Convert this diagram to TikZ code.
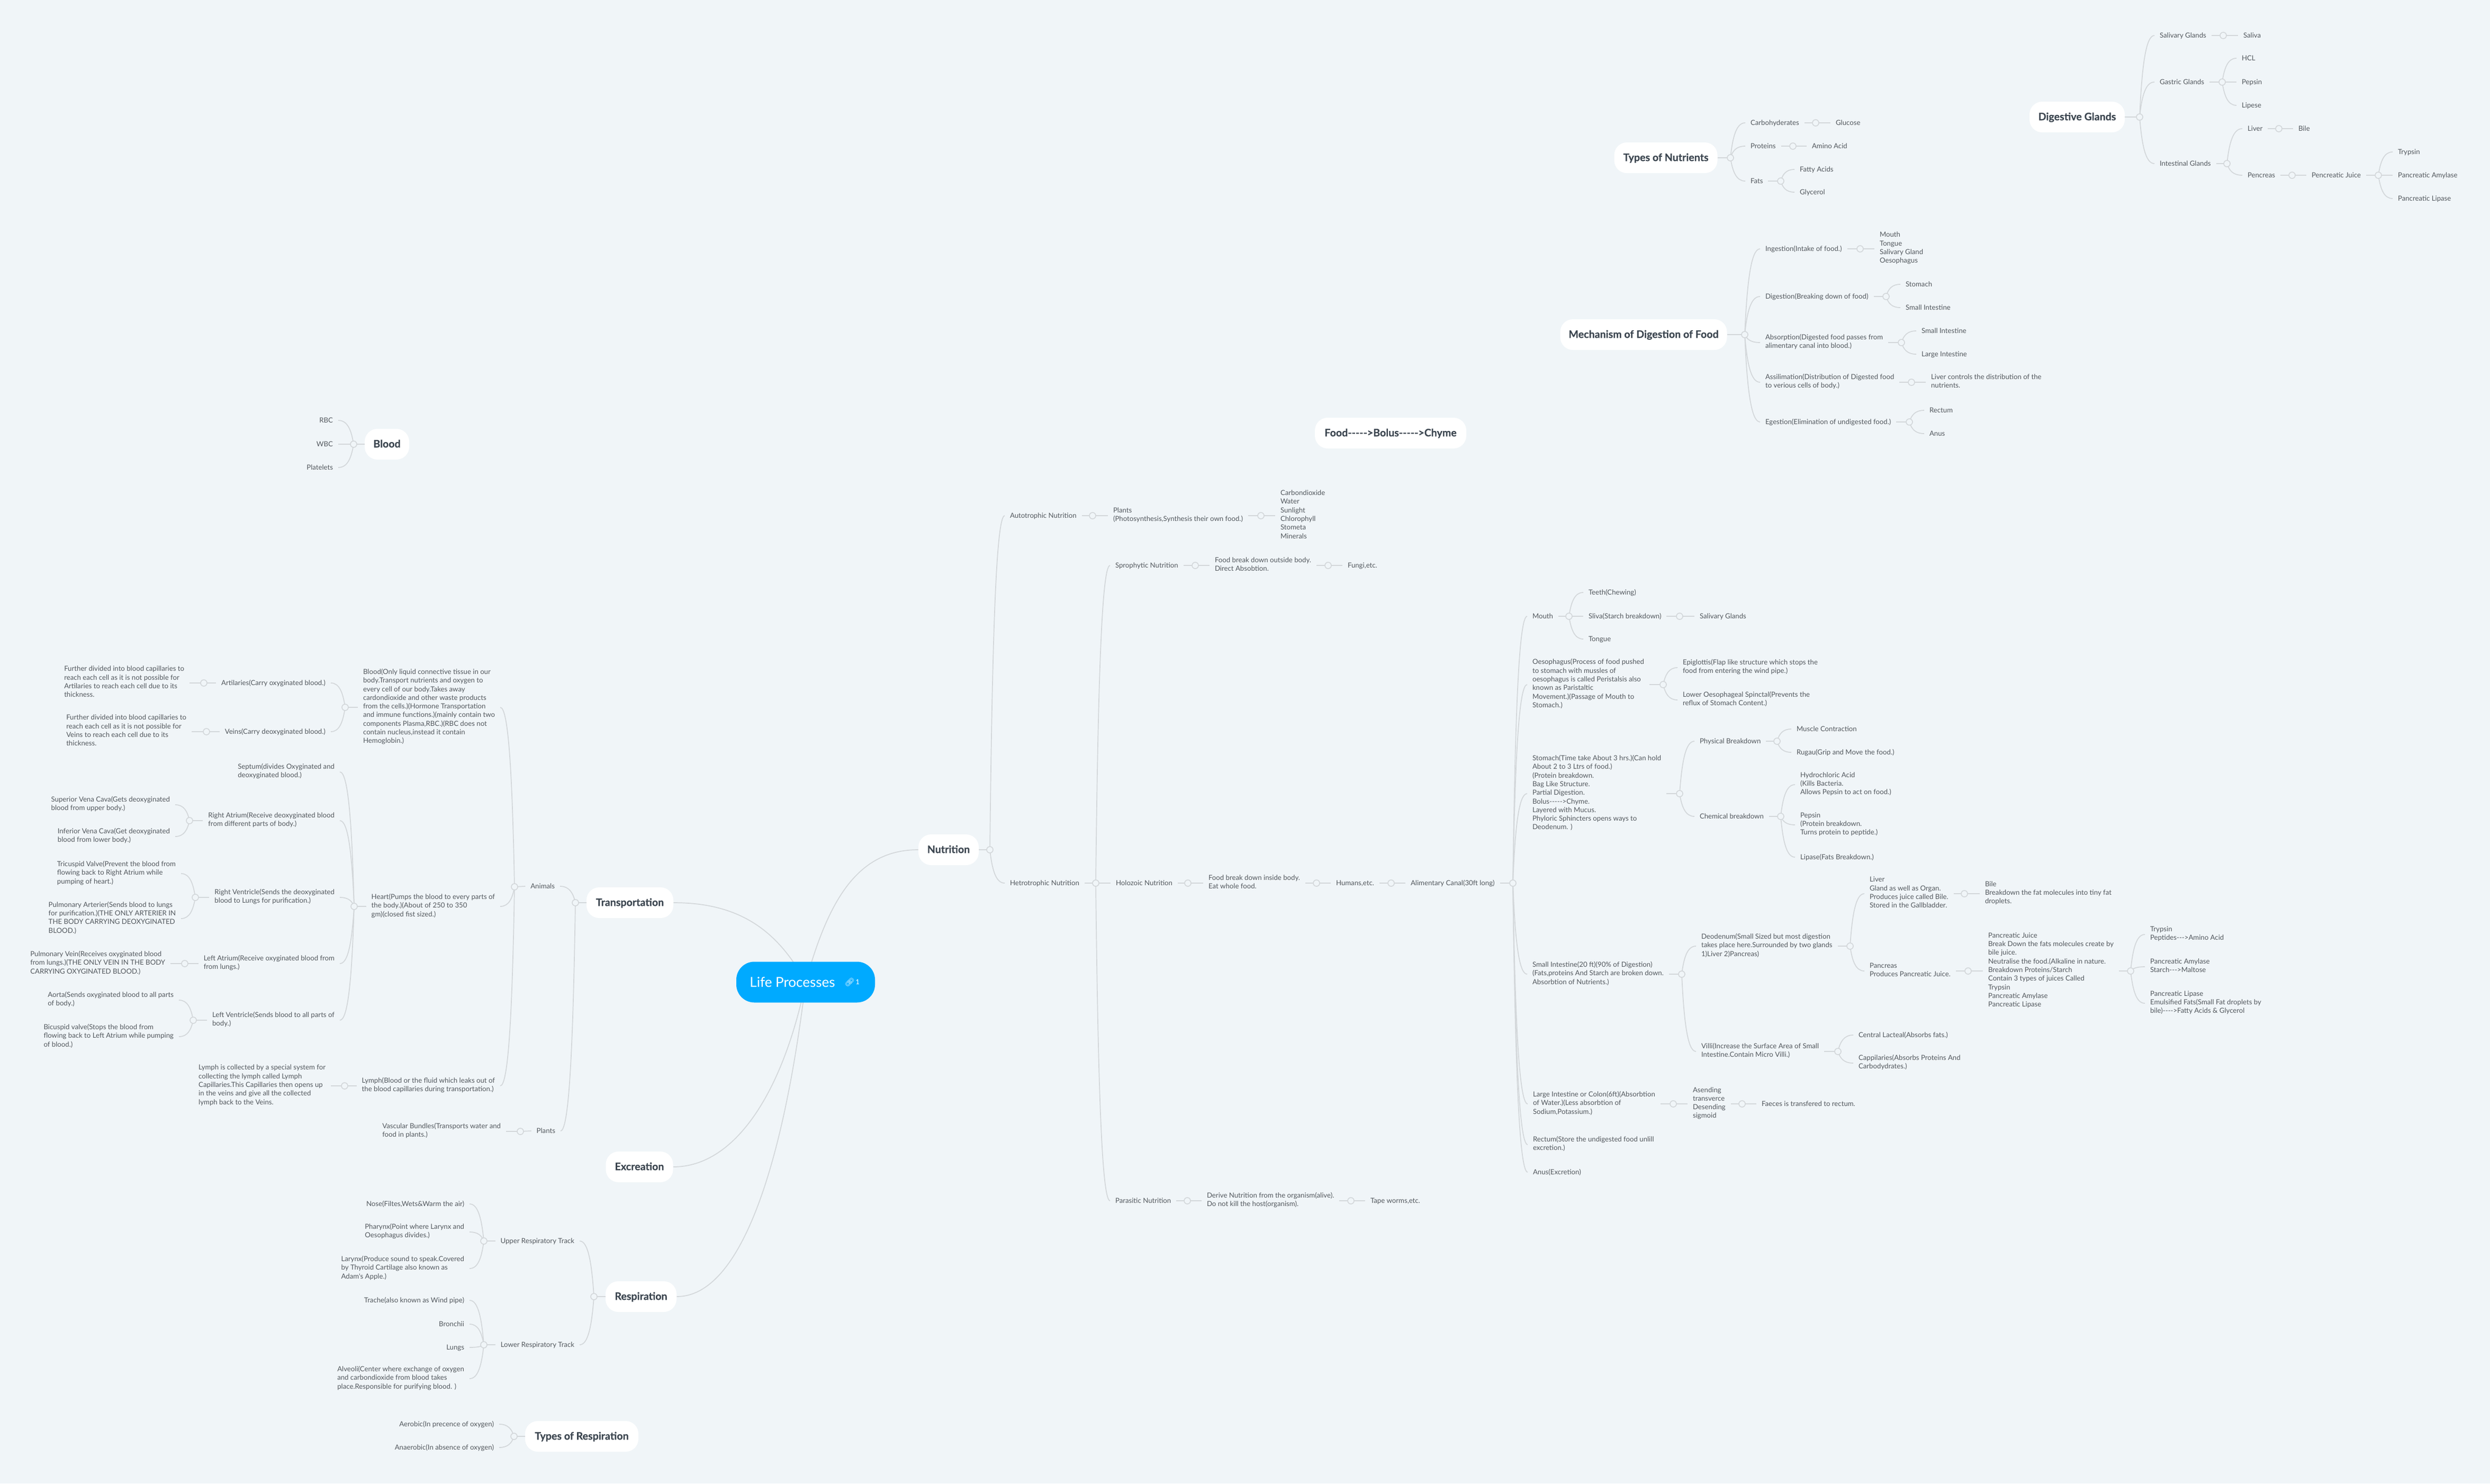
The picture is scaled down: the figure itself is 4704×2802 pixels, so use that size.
\documentclass[tikz,border=0pt]{standalone}
\usepackage{fontspec}
\usetikzlibrary{calc}
\newfontfamily\bodyf{Lato}
\newfontfamily\emojif{Noto Emoji}
\definecolor{bgc}{HTML}{F0F5F8}
\definecolor{linec}{HTML}{D3D7DA}
\definecolor{txtc}{HTML}{52585E}
\definecolor{headc}{HTML}{3C4650}
\definecolor{rootc}{HTML}{00AAFF}
\pgfdeclarelayer{bg}
\pgfsetlayers{bg,main}
\tikzset{
 txt/.style={inner sep=0pt,outer sep=0pt,align=left,text=txtc,font=\bodyf\fontsize{6.6}{8.15}\selectfont,execute at begin node=\rule[-2.445pt]{0pt}{9.15pt},execute at end node=\strut},
 jct/.style={circle,draw=linec,fill=bgc,line width=0.8pt,minimum size=6pt,inner sep=0pt},
 conn/.style={draw=linec,line width=0.85pt},
 pill/.style={rounded corners=12pt,fill=white,inner sep=0pt,minimum height=29pt,text=headc,text height=8.2pt,text depth=2pt,font=\bodyf\bfseries\addfontfeatures{FakeBold=0.4}\fontsize{9.8}{12}\selectfont},
 rootpill/.style={rounded corners=17pt,fill=rootc,inner sep=0pt,minimum height=38.5pt,minimum width=131pt,text=white,font=\bodyf\fontsize{13}{15}\selectfont}
}
\newcommand{\tR}[4]{\node[txt,anchor=west] (#1) at (#2,#3) {#4};}
\newcommand{\tL}[4]{\node[txt,anchor=east] (#1) at (#2,#3) {#4};}
\newcommand{\Jn}[3]{\node[jct] (#1) at (#2,#3) {};}
\newcommand{\Topic}[5]{\node[pill,minimum width=#4*0.5pt] (#1) at (#2,#3) {#5};}
% right-going branch from junction to text children
\newcommand{\Rb}[2]{\foreach \ch in {#2}{\draw[conn] let \p1=(#1.center),\p2=([xshift=-5pt]\ch.west) in (\p1) .. controls ({\x1+0.15*(\x2-\x1)},{\y1+0.6*(\y2-\y1)}) and ({\x1+0.4*(\x2-\x1)},\y2) .. (\p2);}}
% left-going branch
\newcommand{\Lb}[2]{\foreach \ch in {#2}{\draw[conn] let \p1=(#1.center),\p2=([xshift=5pt]\ch.east) in (\p1) .. controls ({\x1+0.15*(\x2-\x1)},{\y1+0.6*(\y2-\y1)}) and ({\x1+0.4*(\x2-\x1)},\y2) .. (\p2);}}
\newcommand{\StR}[2]{\draw[conn] ([xshift=5pt]#1.east) -- (#2.center);}
\newcommand{\StL}[2]{\draw[conn] ([xshift=-5pt]#1.west) -- (#2.center);}
\newcommand{\PpR}[2]{\draw[conn] (#1.east) -- (#2.center);}
\newcommand{\PpL}[2]{\draw[conn] (#1.west) -- (#2.center);}
\begin{document}
\begin{tikzpicture}[x=0.5pt,y=-0.5pt]
\useasboundingbox (0,0) rectangle (4704,2802);
% ---------- topics
\node[rootpill] (root) at (1522,1855) {Life Processes\rule{25pt}{0pt}};
\node[text=white,inner sep=0pt,font=\emojif\fontsize{7.5}{9}\selectfont] (rootlink) at (1605,1855) {🔗};
\node[text=white,inner sep=0pt,font=\bodyf\fontsize{6.5}{8}\selectfont] (rootnum) at (1620,1855) {1};
\Topic{nut}{1792}{1605}{114}{Nutrition}
\Topic{tra}{1190}{1705}{164}{Transportation}
\Topic{exc}{1208}{2204}{127}{Excreation}
\Topic{res}{1211}{2449}{134}{Respiration}
\Topic{tyr}{1099}{2713}{214}{Types of Respiration}
\Topic{blo}{731}{839}{84}{Blood}
\Topic{foo}{2627}{818}{286}{Food----->Bolus----->Chyme}
\Topic{mec}{3105}{632}{315}{Mechanism of Digestion of Food}
\Topic{typ}{3147}{298}{195}{Types of Nutrients}
\Topic{dig}{3924}{221}{180}{Digestive Glands}
% ---------- Digestive Glands
\Jn{jd}{4042}{221}
\tR{sg}{4080}{67}{Salivary Glands}\Jn{jsg}{4200}{67}\tR{sal}{4238}{67}{Saliva}
\tR{gg}{4080}{155}{Gastric Glands}\Jn{jgg}{4198}{155}
\tR{hcl}{4235}{110}{HCL}\tR{pep}{4235}{155}{Pepsin}\tR{lip}{4235}{199}{Lipese}
\tR{ig}{4080}{309}{Intestinal Glands}\Jn{jig}{4207}{309}
\tR{liv}{4246}{243}{Liver}\Jn{jliv}{4305}{243}\tR{bil}{4342}{243}{Bile}
\tR{pen}{4246}{331}{Pencreas}\Jn{jpen}{4330}{331}\tR{pju}{4367}{331}{Pencreatic Juice}\Jn{jpju}{4493}{331}
\tR{try}{4530}{287}{Trypsin}\tR{pam}{4530}{331}{Pancreatic Amylase}\tR{pli}{4530}{375}{Pancreatic Lipase}
% ---------- Types of Nutrients
\Jn{jt}{3269}{298}
\tR{car}{3307}{232}{Carbohyderates}\Jn{jcar}{3430}{232}\tR{glu}{3468}{232}{Glucose}
\tR{pro}{3307}{276}{Proteins}\Jn{jpro}{3387}{276}\tR{ami}{3423}{276}{Amino Acid}
\tR{fat}{3307}{342}{Fats}\Jn{jfat}{3364}{342}\tR{fac}{3400}{320}{Fatty Acids}\tR{gly}{3400}{363}{Glycerol}
% ---------- Mechanism
\Jn{jm}{3296}{632}
\tR{ing}{3335}{470}{Ingestion(Intake of food.)}\Jn{jing}{3514}{470}
\tR{ingl}{3551}{470}{Mouth\\Tongue\\Salivary Gland\\Oesophagus}
\tR{dgs}{3335}{560}{Digestion(Breaking down of food)}\Jn{jdgs}{3563}{560}
\tR{sto}{3600}{537}{Stomach}\tR{smi}{3600}{581}{Small Intestine}
\tR{abs}{3335}{647}{Absorption(Digested food passes from\\alimentary canal into blood.)}\Jn{jabs}{3592}{647}
\tR{smb}{3630}{625}{Small Intestine}\tR{lai}{3630}{669}{Large Intestine}
\tR{ass}{3335}{722}{Assilimation(Distribution of Digested food\\to verious cells of body.)}\Jn{jass}{3611}{722}
\tR{lco}{3648}{722}{Liver controls the distribution of the\\nutrients.}
\tR{ege}{3335}{797}{Egestion(Elimination of undigested food.)}\Jn{jege}{3607}{797}
\tR{rec}{3645}{775}{Rectum}\tR{anu}{3645}{819}{Anus}
% ---------- Blood
\Jn{jb}{668}{839}
\tL{rbc}{629}{794}{RBC}\tL{wbc}{629}{839}{WBC}\tL{pla}{629}{883}{Platelets}
% ---------- Nutrition
\Jn{jn}{1870}{1605}
\tR{aut}{1908}{974}{Autotrophic Nutrition}\Jn{jaut}{2064}{974}
\tR{pln}{2103}{974}{Plants\\(Photosynthesis,Synthesis their own food.)}\Jn{jpln}{2382}{974}
\tR{pll}{2419}{974}{Carbondioxide\\Water\\Sunlight\\Chlorophyll\\Stometa\\Minerals}
\tR{het}{1908}{1668}{Hetrotrophic Nutrition}\Jn{jhet}{2070}{1668}
\tR{spr}{2107}{1068}{Sprophytic Nutrition}\Jn{jspr}{2258}{1068}
\tR{fbo}{2295}{1068}{Food break down outside body.\\Direct Absobtion.}\Jn{jfbo}{2509}{1068}
\tR{fun}{2546}{1068}{Fungi,etc.}
\tR{hol}{2108}{1668}{Holozoic Nutrition}\Jn{jhol}{2244}{1668}
\tR{fbi}{2283}{1668}{Food break down inside body.\\Eat whole food.}\Jn{jfbi}{2487}{1668}
\tR{hum}{2524}{1668}{Humans,etc.}\Jn{jhum}{2628}{1668}
\tR{ali}{2665}{1668}{Alimentary Canal(30ft long)}\Jn{jali}{2858}{1668}
\tR{par}{2107}{2268}{Parasitic Nutrition}\Jn{jpar}{2243}{2268}
\tR{der}{2280}{2268}{Derive Nutrition from the organism(alive).\\Do not kill the host(organism).}\Jn{jder}{2552}{2268}
\tR{tap}{2589}{2268}{Tape worms,etc.}
% Alimentary canal
\tR{mou}{2895}{1164}{Mouth}\Jn{jmou}{2964}{1164}
\tR{tee}{3001}{1119}{Teeth(Chewing)}\tR{sli}{3001}{1164}{Sliva(Starch breakdown)}\Jn{jsli}{3173}{1164}
\tR{sgl}{3211}{1164}{Salivary Glands}\tR{ton}{3001}{1207}{Tongue}
\tR{oes}{2895}{1293}{Oesophagus(Process of food pushed\\to stomach with mussles of\\oesophagus is called Peristalsis also\\known as Paristaltic\\Movement.)(Passage of Mouth to\\Stomach.)}\Jn{joes}{3142}{1293}
\tR{epi}{3179}{1261}{Epiglottis(Flap like structure which stops the\\food from entering the wind pipe.)}
\tR{low}{3179}{1322}{Lower Oesophageal Spinctal(Prevents the\\reflux of Stomach Content.)}
\tR{stm}{2895}{1499}{Stomach(Time take About 3 hrs.)(Can hold\\About 2 to 3 Ltrs of food.)\\(Protein breakdown.\\Bag Like Structure.\\Partial Digestion.\\Bolus----->Chyme.\\Layered with Mucus.\\Phyloric Sphincters opens ways to\\Deodenum. )}\Jn{jstm}{3173}{1499}
\tR{phy}{3211}{1400}{Physical Breakdown}\Jn{jphy}{3357}{1400}
\tR{mus}{3394}{1377}{Muscle Contraction}\tR{rug}{3394}{1421}{Rugau(Grip and Move the food.)}
\tR{che}{3211}{1542}{Chemical breakdown}\Jn{jche}{3364}{1542}
\tR{hyd}{3401}{1482}{Hydrochloric Acid\\(Kills Bacteria.\\Allows Pepsin to act on food.)}
\tR{pps}{3401}{1558}{Pepsin\\(Protein breakdown.\\Turns protein to peptide.)}
\tR{lps}{3401}{1619}{Lipase(Fats Breakdown.)}
\tR{smn}{2895}{1840}{Small Intestine(20 ft)(90\% of Digestion)\\(Fats,proteins And Starch are broken down.\\Absorbtion of Nutrients.)}\Jn{jsmn}{3177}{1840}
\tR{deo}{3214}{1787}{Deodenum(Small Sized but most digestion\\takes place here.Surrounded by two glands\\1)Liver 2)Pancreas)}\Jn{jdeo}{3495}{1787}
\tR{lvr}{3532}{1688}{Liver\\Gland as well as Organ.\\Produces juice called Bile.\\Stored in the Gallbladder.}\Jn{jlvr}{3711}{1688}
\tR{bbl}{3750}{1688}{Bile\\Breakdown the fat molecules into tiny fat\\droplets.}
\tR{pnc}{3532}{1834}{Pancreas\\Produces Pancreatic Juice.}\Jn{jpnc}{3718}{1834}
\tR{pjc}{3756}{1834}{Pancreatic Juice\\Break Down the fats molecules create by\\bile juice.\\Neutralise the food.(Alkaline in nature.\\Breakdown Proteins/Starch\\Contain 3 types of juices Called\\Trypsin\\Pancreatic Amylase\\Pancreatic Lipase}\Jn{jpjc}{4025}{1834}
\tR{trp}{4062}{1765}{Trypsin\\Peptides--->Amino Acid}
\tR{amy}{4062}{1826}{Pancreatic Amylase\\Starch--->Maltose}
\tR{lpe}{4062}{1895}{Pancreatic Lipase\\Emulsified Fats(Small Fat droplets by\\bile)---->Fatty Acids \& Glycerol}
\tR{vil}{3214}{1986}{Villi(Increase the Surface Area of Small\\Intestine.Contain Micro Villi.)}\Jn{jvil}{3472}{1986}
\tR{cen}{3511}{1955}{Central Lacteal(Absorbs fats.)}
\tR{cap}{3511}{2008}{Cappilaries(Absorbs Proteins And\\Carbodydrates.)}
\tR{lar}{2896}{2085}{Large Intestine or Colon(6ft)(Absorbtion\\of Water.)(Less absorbtion of\\Sodium,Potassium.)}\Jn{jlar}{3161}{2085}
\tR{ase}{3198}{2085}{Asending\\transverce\\Desending\\sigmoid}\Jn{jase}{3291}{2085}
\tR{fae}{3328}{2085}{Faeces is transfered to rectum.}
\tR{rct}{2896}{2162}{Rectum(Store the undigested food unlill\\excretion.)}
\tR{ans}{2896}{2214}{Anus(Excretion)}
% ---------- Transportation
\Jn{jtr}{1087}{1705}
\tL{ani}{1048}{1674}{Animals}\Jn{jani}{972}{1675}
\tL{plt}{1049}{2136}{Plants}\Jn{jplt}{983}{2137}
\tL{vas}{946}{2137}{Vascular Bundles(Transports water and\\food in plants.)}
\tL{bld}{935}{1336}{Blood(Only liquid connective tissue in our\\body.Transport nutrients and oxygen to\\every cell of our body.Takes away\\cardondioxide and other waste products\\from the cells.)(Hormone Transportation\\and immune functions.)(mainly contain two\\components Plasma,RBC.)(RBC does not\\contain nucleus,instead it contain\\Hemoglobin.)}\Jn{jbld}{652}{1336}
\tL{art}{615}{1290}{Artilaries(Carry oxyginated blood.)}\Jn{jart}{385}{1290}
\tL{fd1}{348}{1290}{Further divided into blood capillaries to\\reach each cell as it is not possible for\\Artilaries to reach each cell due to its\\thickness.}
\tL{vei}{615}{1382}{Veins(Carry deoxyginated blood.)}\Jn{jvei}{390}{1382}
\tL{fd2}{352}{1382}{Further divided into blood capillaries to\\reach each cell as it is not possible for\\Veins to reach each cell due to its\\thickness.}
\tL{hea}{935}{1712}{Heart(Pumps the blood to every parts of\\the body.)(About of 250 to 350\\gm)(closed fist sized.)}\Jn{jhea}{669}{1712}
\tL{sep}{632}{1458}{Septum(divides Oxyginated and\\deoxyginated blood.)}
\tL{rat}{632}{1550}{Right Atrium(Receive deoxyginated blood\\from different parts of body.)}\Jn{jrat}{358}{1550}
\tL{sup}{321}{1520}{Superior Vena Cava(Gets deoxyginated\\blood from upper body.)}
\tL{inf}{321}{1580}{Inferior Vena Cava(Get deoxyginated\\blood from lower body.)}
\tL{rve}{632}{1695}{Right Ventricle(Sends the deoxyginated\\blood to Lungs for purification.)}\Jn{jrve}{369}{1695}
\tL{tri}{332}{1650}{Tricuspid Valve(Prevent the blood from\\flowing back to Right Atrium while\\pumping of heart.)}
\tL{pua}{332}{1735}{Pulmonary Arterier(Sends blood to lungs\\for purification.)(THE ONLY ARTERIER IN\\THE BODY CARRYING DEOXYGINATED\\BLOOD.)}
\tL{lat}{632}{1820}{Left Atrium(Receive oxyginated blood from\\from lungs.)}\Jn{jlat}{349}{1820}
\tL{puv}{312}{1820}{Pulmonary Vein(Receives oxyginated blood\\from lungs.)(THE ONLY VEIN IN THE BODY\\CARRYING OXYGINATED BLOOD.)}
\tL{lve}{632}{1927}{Left Ventricle(Sends blood to all parts of\\body.)}\Jn{jlve}{365}{1927}
\tL{aor}{328}{1889}{Aorta(Sends oxyginated blood to all parts\\of body.)}
\tL{bic}{328}{1958}{Bicuspid valve(Stops the blood from\\flowing back to Left Atrium while pumping\\of blood.)}
\tL{lym}{935}{2051}{Lymph(Blood or the fluid which leaks out of\\the blood capillaries during transportation.)}\Jn{jlym}{651}{2051}
\tL{lyc}{615}{2051}{Lymph is collected by a special system for\\collecting the lymph called Lymph\\Capillaries.This Capillaries then opens up\\in the veins and give all the collected\\lymph back to the Veins.}
% ---------- Respiration
\Jn{jr}{1122}{2449}
\tL{upp}{1085}{2344}{Upper Respiratory Track}\Jn{jupp}{914}{2344}
\tL{nos}{877}{2274}{Nose(Filtes,Wets\&Warm the air)}
\tL{pha}{877}{2327}{Pharynx(Point where Larynx and\\Oesophagus divides.)}
\tL{lrx}{877}{2396}{Larynx(Produce sound to speak.Covered\\by Thyroid Cartilage also known as\\Adam's Apple.)}
\tL{lwr}{1085}{2540}{Lower Respiratory Track}\Jn{jlwr}{914}{2540}
\tL{trc}{877}{2456}{Trache(also known as Wind pipe)}
\tL{bro}{877}{2501}{Bronchii}
\tL{lun}{877}{2545}{Lungs}
\tL{alv}{877}{2604}{Alveoli(Center where exchange of oxygen\\and carbondioxide from blood takes\\place.Responsible for purifying blood. )}
\Jn{jty}{971}{2713}
\tL{aer}{933}{2690}{Aerobic(In precence of oxygen)}
\tL{ana}{933}{2734}{Anaerobic(In absence of oxygen)}
% ---------- connectors
\begin{pgfonlayer}{bg}
\fill[bgc] (0,0) rectangle (4704,2802);
% root edges
\draw[conn] (root.center) .. controls (1565,1700) and (1620,1605) .. (nut.west);
\draw[conn] (root.center) .. controls (1470,1760) and (1400,1705) .. (tra.east);
\draw[conn] (root.center) .. controls (1480,2060) and (1390,2204) .. (exc.east);
\draw[conn] (root.center) .. controls (1480,2200) and (1400,2449) .. (res.east);
% digestive glands
\PpR{dig}{jd}\Rb{jd}{sg,gg,ig}
\StR{sg}{jsg}\Rb{jsg}{sal}
\StR{gg}{jgg}\Rb{jgg}{hcl,pep,lip}
\StR{ig}{jig}\Rb{jig}{liv,pen}
\StR{liv}{jliv}\Rb{jliv}{bil}
\StR{pen}{jpen}\Rb{jpen}{pju}
\StR{pju}{jpju}\Rb{jpju}{try,pam,pli}
% nutrients
\PpR{typ}{jt}\Rb{jt}{car,pro,fat}
\StR{car}{jcar}\Rb{jcar}{glu}
\StR{pro}{jpro}\Rb{jpro}{ami}
\StR{fat}{jfat}\Rb{jfat}{fac,gly}
% mechanism
\PpR{mec}{jm}\Rb{jm}{ing,dgs,abs,ass,ege}
\StR{ing}{jing}\Rb{jing}{ingl}
\StR{dgs}{jdgs}\Rb{jdgs}{sto,smi}
\StR{abs}{jabs}\Rb{jabs}{smb,lai}
\StR{ass}{jass}\Rb{jass}{lco}
\StR{ege}{jege}\Rb{jege}{rec,anu}
% blood
\PpL{blo}{jb}\Lb{jb}{rbc,wbc,pla}
% nutrition
\PpR{nut}{jn}\Rb{jn}{aut,het}
\StR{aut}{jaut}\Rb{jaut}{pln}
\StR{pln}{jpln}\Rb{jpln}{pll}
\StR{het}{jhet}\Rb{jhet}{spr,hol,par}
\StR{spr}{jspr}\Rb{jspr}{fbo}
\StR{fbo}{jfbo}\Rb{jfbo}{fun}
\StR{hol}{jhol}\Rb{jhol}{fbi}
\StR{fbi}{jfbi}\Rb{jfbi}{hum}
\StR{hum}{jhum}\Rb{jhum}{ali}
\StR{par}{jpar}\Rb{jpar}{der}
\StR{der}{jder}\Rb{jder}{tap}
\StR{ali}{jali}\Rb{jali}{mou,oes,stm,smn,lar,rct,ans}
\StR{mou}{jmou}\Rb{jmou}{tee,sli,ton}
\StR{sli}{jsli}\Rb{jsli}{sgl}
\StR{oes}{joes}\Rb{joes}{epi,low}
\StR{stm}{jstm}\Rb{jstm}{phy,che}
\StR{phy}{jphy}\Rb{jphy}{mus,rug}
\StR{che}{jche}\Rb{jche}{hyd,pps,lps}
\StR{smn}{jsmn}\Rb{jsmn}{deo,vil}
\StR{deo}{jdeo}\Rb{jdeo}{lvr,pnc}
\StR{lvr}{jlvr}\Rb{jlvr}{bbl}
\StR{pnc}{jpnc}\Rb{jpnc}{pjc}
\StR{pjc}{jpjc}\Rb{jpjc}{trp,amy,lpe}
\StR{vil}{jvil}\Rb{jvil}{cen,cap}
\StR{lar}{jlar}\Rb{jlar}{ase}
\StR{ase}{jase}\Rb{jase}{fae}
% transportation
\PpL{tra}{jtr}\Lb{jtr}{ani,plt}
\StL{ani}{jani}\Lb{jani}{bld,hea,lym}
\StL{plt}{jplt}\Lb{jplt}{vas}
\StL{bld}{jbld}\Lb{jbld}{art,vei}
\StL{art}{jart}\Lb{jart}{fd1}
\StL{vei}{jvei}\Lb{jvei}{fd2}
\StL{hea}{jhea}\Lb{jhea}{sep,rat,rve,lat,lve}
\StL{rat}{jrat}\Lb{jrat}{sup,inf}
\StL{rve}{jrve}\Lb{jrve}{tri,pua}
\StL{lat}{jlat}\Lb{jlat}{puv}
\StL{lve}{jlve}\Lb{jlve}{aor,bic}
\StL{lym}{jlym}\Lb{jlym}{lyc}
% respiration
\PpL{res}{jr}\Lb{jr}{upp,lwr}
\StL{upp}{jupp}\Lb{jupp}{nos,pha,lrx}
\StL{lwr}{jlwr}\Lb{jlwr}{trc,bro,lun,alv}
\PpL{tyr}{jty}\Lb{jty}{aer,ana}
\end{pgfonlayer}
\end{tikzpicture}
\end{document}
